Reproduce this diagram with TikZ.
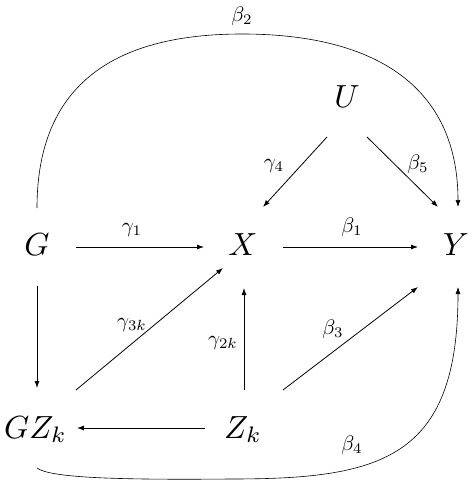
\documentclass[tikz,border=0pt]{standalone}
\usepackage{graphicx}
\usetikzlibrary{arrows.meta}
\newcommand{\bigvar}[1]{\scalebox{3.2}{$#1$}}
\newcommand{\lbl}[1]{\scalebox{2.1}{$#1$}}
\begin{document}
\begin{tikzpicture}[x=1pt,y=-1pt,
  var/.style={inner sep=0pt,anchor=base},
  lab/.style={inner sep=0pt},
  arr/.style={line width=0.8pt,-{Latex[length=7pt,width=5pt]}},
  curv/.style={line width=0.6pt,-{Latex[length=7pt,width=5pt]}}]
\useasboundingbox (0,0) rectangle (474,484);
% nodes
\node[var] (U) at (347,108) {\bigvar{U}};
\node[var] (G) at (37,255) {\bigvar{G}};
\node[var] (X) at (243,255) {\bigvar{X}};
\node[var] (Y) at (456,255) {\bigvar{Y}};
\node[var] (GZ) at (35.5,438) {\bigvar{GZ_k}};
\node[var] (Z) at (243,438) {\bigvar{Z_k}};
\coordinate (top) at (242,34);
\coordinate (bot) at (230,479);
% straight arrows
\draw[arr] ([shift={(39,-8)}]G.base) -- ([shift={(-39,-8)}]X.base);
\draw[arr] ([shift={(40,-8)}]X.base) -- ([shift={(-38,-8)}]Y.base);
\draw[arr] ([shift={(-20,29)}]U.base) -- ([shift={(20,-48)}]X.base);
\draw[arr] ([shift={(20,29)}]U.base) -- ([shift={(-18,-48)}]Y.base);
\draw[arr] ([shift={(0,31)}]G.base) -- ([shift={(1.5,-50)}]GZ.base);
\draw[arr] ([shift={(-38,-10)}]Z.base) -- ([shift={(41.5,-10)}]GZ.base);
\draw[arr] ([shift={(40.5,-48)}]GZ.base) -- ([shift={(-20,13)}]X.base);
\draw[arr] ([shift={(1,-48)}]Z.base) -- ([shift={(1,33)}]X.base);
\draw[arr] ([shift={(40,-48)}]Z.base) -- ([shift={(-38,32)}]Y.base);
% curved arrows
\draw[curv] ([shift={(0,-47)}]G.base) .. controls +(0,-128) and +(-122,0) .. (top)
  .. controls +(138,0) and +(0,-117) .. ([shift={(2,-48)}]Y.base);
\draw[curv] ([shift={(1.5,30)}]GZ.base) .. controls +(13,10) and +(-110,1) .. (bot)
  .. controls +(150,0) and +(0,173) .. ([shift={(2,32)}]Y.base);
% labels
\node[lab] (b2) at (242,16) {\lbl{\beta_2}};
\node[lab] (g4) at (274,166) {\lbl{\gamma_4}};
\node[lab] (b5) at (418,164) {\lbl{\beta_5}};
\node[lab] (g1) at (132,230) {\lbl{\gamma_1}};
\node[lab] (b1) at (352,227) {\lbl{\beta_1}};
\node[lab] (g3) at (132,325) {\lbl{\gamma_{3k}}};
\node[lab] (g2) at (223,343) {\lbl{\gamma_{2k}}};
\node[lab] (b3) at (333,329) {\lbl{\beta_3}};
\node[lab] (b4) at (352,445) {\lbl{\beta_4}};
\end{tikzpicture}
\end{document}
